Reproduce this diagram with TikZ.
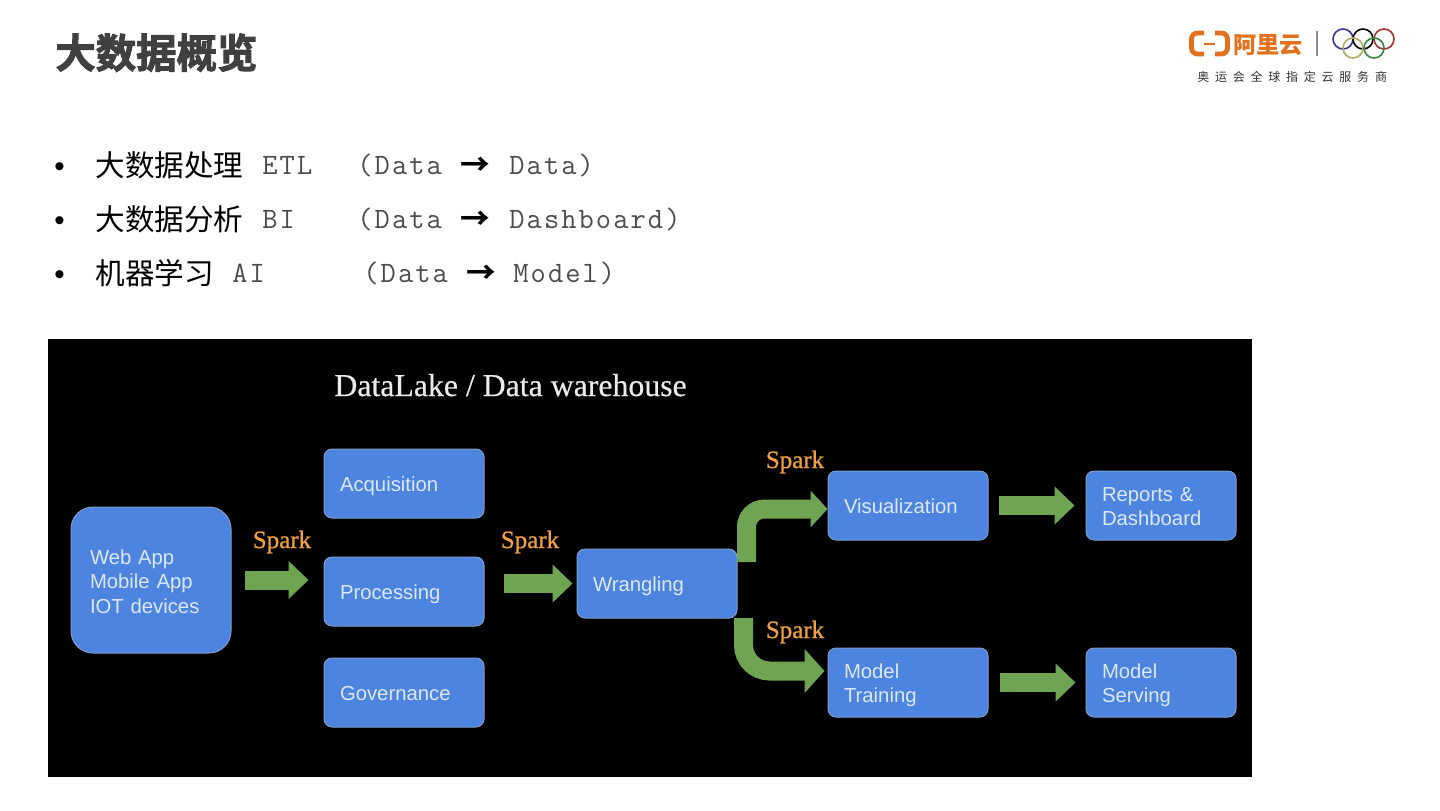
\documentclass[tikz,border=0pt]{standalone}
\usepackage{fontspec}
\setmainfont{Liberation Sans}
\setmonofont[LetterSpace=7]{Latin Modern Mono}
\newfontfamily\cjk{Noto Sans CJK SC}
\newfontfamily\cjkheavy[FakeBold=2.5]{Noto Sans CJK SC Bold}
\newfontfamily\cjkwide[LetterSpace=48]{Noto Sans CJK SC}
\newfontfamily\serif[FakeBold=.4]{Liberation Serif}
\newfontfamily\sparkfont[FakeBold=.9]{Liberation Serif}
\usetikzlibrary{arrows.meta,calc}
\definecolor{boxblue}{HTML}{4C84E0}
\definecolor{boxline}{HTML}{7E9CCB}
\definecolor{boxtext}{HTML}{DCE8FA}
\definecolor{flowgreen}{HTML}{6FA552}
\definecolor{sparkorange}{HTML}{F0A040}
\definecolor{logoorange}{HTML}{E2711D}
\tikzset{
    box/.style={draw=boxline, line width=.5pt, fill=boxblue, rounded corners=4pt, text=boxtext, align=left,
      minimum width=80pt, minimum height=34.5pt, text width=64pt, inner xsep=8pt, inner ysep=0pt,
      text height=7.5pt, text depth=0pt, font=\fontsize{10.15pt}{12.2pt}\selectfont},
    two/.style={text depth=12pt},
    flow/.style={draw=flowgreen, line width=9.5pt, -{Triangle[length=10pt,width=18.5pt]}},
    spark/.style={text=sparkorange, inner sep=0pt, font=\sparkfont\fontsize{12.5pt}{14pt}\selectfont},
    line/.style={anchor=base west, inner sep=0pt, font=\cjk\fontsize{14.8pt}{16pt}\selectfont},
    dot/.style={anchor=base west, inner sep=0pt, font=\fontsize{14.8pt}{16pt}\selectfont},
    code/.style={anchor=base west, inner sep=0pt, text=black!70, font=\ttfamily\fontsize{14.8pt}{16pt}\selectfont},
    goes/.style={anchor=base, inner sep=0pt, font=\cjk\bfseries\fontsize{14.8pt}{16pt}\selectfont},
    ring/.style={line width=.8pt}
}
\begin{document}
\begin{tikzpicture}[x=0.5pt,y=-0.5pt]
\useasboundingbox (0,0) rectangle (1440,810);
\fill [white](0,0) rectangle (1440,810);

%Title
\node[anchor=base west, inner sep=0pt, text=black!75, font=\cjkheavy\fontsize{20.2pt}{22pt}\selectfont] (title) at (55,68) {大数据概览};

%Logo
\draw [logoorange, line width=2.4pt, rounded corners=3pt](1204,33)--(1191.5,33)--(1191.5,54)--(1204,54);
\draw [logoorange, line width=2.4pt, rounded corners=3pt](1215,33)--(1227.5,33)--(1227.5,54)--(1215,54);
\draw [logoorange, line width=1pt](1204,43.5)--(1215,43.5);
\node[anchor=base west, inner sep=0pt, text=logoorange, font=\cjk\bfseries\fontsize{11.6pt}{12pt}\selectfont] (brand) at (1233,53) {阿里云};
\draw [black!45, line width=.6pt](1317,31)--(1317,56);
\draw [ring, blue!45!gray!80!black](1343,39)circle (10);
\draw [ring, black](1363,39)circle (10);
\draw [ring, red!55!gray!85!black](1384,39)circle (10);
\draw [ring, yellow!55!gray!85!black](1353,48)circle (10);
\draw [ring, green!40!gray!75!black](1374,48)circle (10);
\node[anchor=base west, inner sep=0pt, text=black!80, font=\cjkwide\fontsize{6pt}{7pt}\selectfont] (sponsor) at (1197,81) {奥运会全球指定云服务商};

%Bullets
\node[dot] (b1) at (54,176) {•};
\node[dot] (b2) at (54,230) {•};
\node[dot] (b3) at (54,284) {•};
\node[line] (t1) at (95,176) {大数据处理};
\node[line] (t2) at (95,230) {大数据分析};
\node[line] (t3) at (95,284) {机器学习};
\node[code] (c1) at (262,174.5) {ETL};
\node[code] (c2) at (262,228.5) {BI};
\node[code] (c3) at (232,282.5) {AI};
\node[code] (d1) at (357,174.5) {(Data};
\node[code] (d2) at (357,228.5) {(Data};
\node[code] (d3) at (363,282.5) {(Data};
\node[goes] (g1) at (475,175) {→};
\node[goes] (g2) at (475,229) {→};
\node[goes] (g3) at (481,283) {→};
\node[code] (e1) at (509,174.5) {Data)};
\node[code] (e2) at (509,228.5) {Dashboard)};
\node[code] (e3) at (513,282.5) {Model)};

%Black panel
\fill [black](48,339) rectangle (1252,777);
\node[anchor=base west, inner sep=0pt, text=black!8, font=\serif\fontsize{15.9pt}{17pt}\selectfont] (lake) at (334,396) {DataLake / Data warehouse};

\node[box, text depth=23pt, minimum height=73pt, rounded corners=11pt, inner xsep=9.5pt, text width=61pt] (web) at (151,580) {Web App\\Mobile App\\IOT devices};
\node[box] (acq) at (404,483.5) {Acquisition};
\node[box] (proc) at (404,591.5) {Processing};
\node[box] (gov) at (404,692.5) {Governance};
\node[box] (wrang) at (657,583.5) {Wrangling};
\node[box] (viz) at (908,505.5) {Visualization};
\node[box, two, minimum width=75pt, text width=59pt] (report) at (1161,505.5) {Reports \&\\Dashboard};
\node[box, two] (train) at (908,682.5) {Model\\Training};
\node[box, two, minimum width=75pt, text width=59pt] (serve) at (1161,682.5) {Model\\Serving};

\node[spark] (s1) at (282,542) {Spark};
\node[spark] (s2) at (530,542) {Spark};
\node[spark] (s3) at (795,462) {Spark};
\node[spark] (s4) at (795,632) {Spark};

\draw [flow, shorten <=6.5pt, shorten >=7.5pt](web.east)--(web.east -| proc.west);
\draw [flow, shorten <=9.5pt, shorten >=2pt](wrang.west -| proc.east)--(wrang.west);
\draw [flow, rounded corners=9pt, -{Triangle[length=8.5pt,width=18pt]}]($(wrang.east)+(9,-21.5)$)|-($(viz.west)+(0,3.5)$);
\draw [flow, rounded corners=13pt, -{Triangle[length=10pt,width=21.5pt]}]($(wrang.east)+(6,34.5)$)|-($(train.west)+(-3,-11.5)$);
\draw [flow, shorten <=5pt, shorten >=5.5pt](viz.east)--(report.west);
\draw [flow, shorten <=5.5pt, shorten >=5pt](train.east)--(serve.west);
\end{tikzpicture}
\end{document}
